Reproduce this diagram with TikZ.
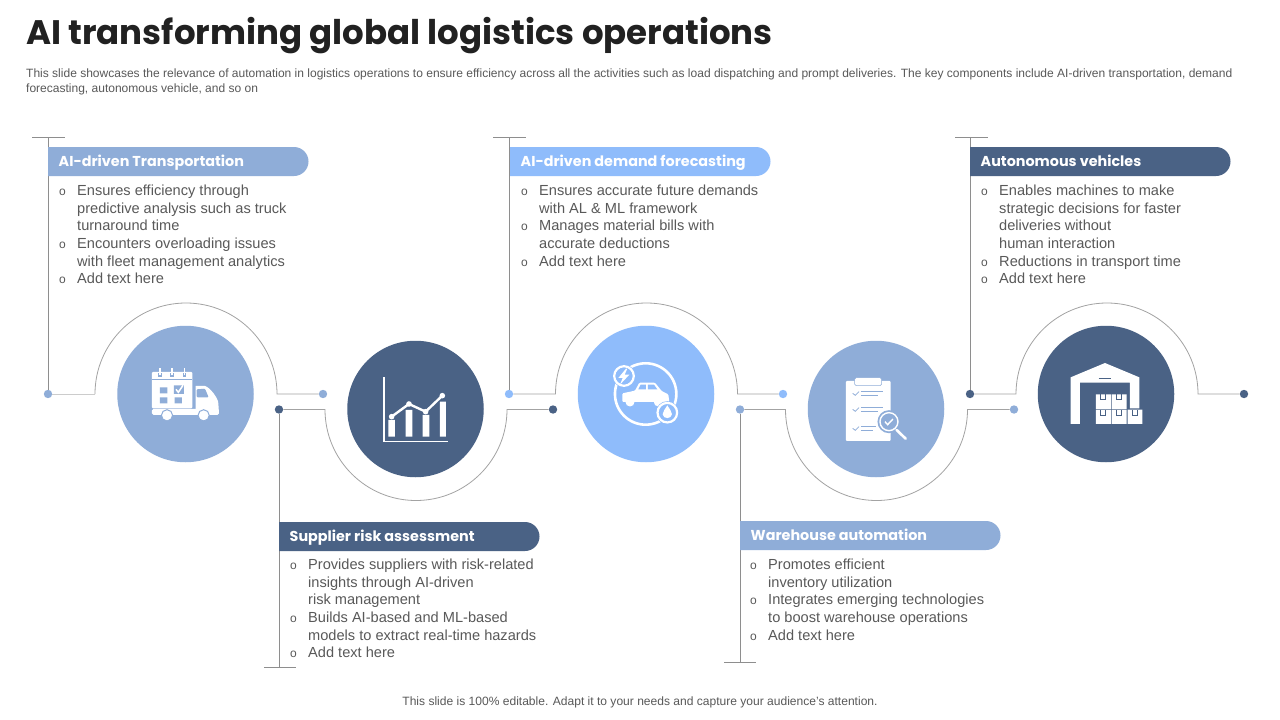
\documentclass[tikz,border=0pt]{standalone}
\usepackage{fontspec}
\setmainfont{Liberation Sans}
\newfontfamily\popfont{Poppins}
\definecolor{lightb}{HTML}{8FADD8}
\definecolor{darkb}{HTML}{4A6285}
\definecolor{brightb}{HTML}{8FBCFB}
\definecolor{bodyg}{HTML}{595959}
\definecolor{linkg}{HTML}{8E8E8E}
\definecolor{arcg}{HTML}{A3A3A3}
\newcommand{\bul}{\llap{\makebox[18pt][l]{\fontsize{12}{12}\selectfont o}}}
\newcommand{\hdrbar}[5]{%
  \fill[#4] (#2,#3) -- ++(246,0) arc[start angle=90,end angle=-90,radius=14.5pt] -- ++(-246,0) -- cycle;
  \node[hdrtext] (#1) at (#2+10.5,#3+19) {#5};}
\tikzset{
  x=1pt,y=-1pt,
  conn/.style={draw=arcg,line width=0.8pt},
  rule/.style={draw=linkg,line width=0.9pt},
  dotn/.style={circle,inner sep=0pt,minimum size=8.4pt,fill=#1},
  disc/.style={circle,inner sep=0pt,minimum size=136.5pt,fill=#1},
  hdrtext/.style={anchor=base west,inner sep=0pt,text=white,font=\popfont\bfseries\fontsize{14.35}{16}\selectfont},
  bodytext/.style={anchor=north west,inner sep=0pt,align=left,text=bodyg,font=\fontsize{14.6}{17.6}\selectfont},
}
\begin{document}
\begin{tikzpicture}
\useasboundingbox (0,0) rectangle (1280,720);
\fill[white] (0,0) rectangle (1280,720);
\node[anchor=west,inner sep=0pt,text=black!87,font=\popfont\bfseries\fontsize{34}{40}\selectfont] (title) at (26,35.5) {AI transforming global logistics operations};
\node[anchor=north west,inner sep=0pt,align=left,text=bodyg,font=\fontsize{12.02}{15}\selectfont] (sub) at (26,69) {This slide showcases the relevance of automation in logistics operations to ensure efficiency across all the activities such as load dispatching and prompt deliveries. The key components include AI-driven transportation, demand\\forecasting, autonomous vehicle, and so on};
\node[inner sep=0pt,text=bodyg,font=\fontsize{12.05}{14}\selectfont] (foot) at (640,702) {This slide is 100\% editable. Adapt it to your needs and capture your audience’s attention.};

% dots
\node[dotn=lightb] (d1) at (48,394) {};
\node[dotn=lightb] (d1r) at (323,394) {};
\node[dotn=darkb] (d2) at (279,409.5) {};
\node[dotn=darkb] (d2r) at (553,409.5) {};
\node[dotn=brightb] (d3) at (509,394) {};
\node[dotn=brightb] (d3r) at (783,394) {};
\node[dotn=lightb] (d4) at (740,409.5) {};
\node[dotn=lightb] (d4r) at (1014,409.5) {};
\node[dotn=darkb] (d5) at (970,394) {};
\node[dotn=darkb] (d5r) at (1244,394) {};

% tick end points
\coordinate (t1) at (48,137); \coordinate (t1a) at (32,137); \coordinate (t1b) at (65,137);
\coordinate (t2) at (279,667); \coordinate (t2a) at (264,667); \coordinate (t2b) at (296,667);
\coordinate (t3) at (509,137); \coordinate (t3a) at (493,137); \coordinate (t3b) at (526,137);
\coordinate (t4) at (740,662); \coordinate (t4a) at (724,662); \coordinate (t4b) at (756,662);
\coordinate (t5) at (970,137); \coordinate (t5a) at (955,137); \coordinate (t5b) at (988,137);
\draw[rule] (d1) -- (t1) (t1a) -- (t1b);
\draw[rule] (d2) -- (t2) (t2a) -- (t2b);
\draw[rule] (d3) -- (t3) (t3a) -- (t3b);
\draw[rule] (d4) -- (t4) (t4a) -- (t4b);
\draw[rule] (d5) -- (t5) (t5a) -- (t5b);

% arcs
\coordinate (a1) at (95,394); \coordinate (a2) at (325,409.5); \coordinate (a3) at (555.5,394); \coordinate (a4) at (785.5,409.5); \coordinate (a5) at (1016,394);
\draw[draw=arcg!55,line width=0.8pt] (d1) -- (a1);
\draw[conn] (a1) arc[start angle=180,end angle=0,radius=91pt] -- (d1r);
\draw[conn] (d2) -- (a2) arc[start angle=180,end angle=360,radius=91pt] -- (d2r);
\draw[conn] (d3) -- (a3) arc[start angle=180,end angle=0,radius=91pt] -- (d3r);
\draw[conn] (d4) -- (a4) arc[start angle=180,end angle=360,radius=91pt] -- (d4r);
\draw[conn] (d5) -- (a5) arc[start angle=180,end angle=0,radius=91pt] -- (d5r);

% discs
\node[disc=lightb] (c1) at (185.5,394) {};
\node[disc=darkb] (c2) at (415.5,409) {};
\node[disc=brightb] (c3) at (646,394) {};
\node[disc=lightb] (c4) at (876,409) {};
\node[disc=darkb] (c5) at (1106,394) {};

% headers
\hdrbar{h1}{48}{147}{lightb}{AI-driven Transportation}
\hdrbar{h2}{279}{522}{darkb}{Supplier risk assessment}
\hdrbar{h3}{510}{147}{brightb}{AI-driven demand forecasting}
\hdrbar{h4}{740}{521}{lightb}{Warehouse automation}
\hdrbar{h5}{970}{147}{darkb}{Autonomous vehicles}

% bullet texts
\node[bodytext] (b1) at (77,185) {\bul Ensures efficiency through\\predictive analysis such as truck\\turnaround time\\\bul Encounters overloading issues\\with fleet management analytics\\\bul Add text here};
\node[bodytext] (b2) at (308,559) {\bul Provides suppliers with risk-related\\insights through AI-driven\\risk management\\\bul Builds AI-based and ML-based\\models to extract real-time hazards\\\bul Add text here};
\node[bodytext] (b3) at (539,185) {\bul Ensures accurate future demands\\with AL \& ML framework\\\bul Manages material bills with\\accurate deductions\\\bul Add text here};
\node[bodytext] (b4) at (768,559) {\bul Promotes efficient\\inventory utilization\\\bul Integrates emerging technologies\\to boost warehouse operations\\\bul Add text here};
\node[bodytext] (b5) at (999,185) {\bul Enables machines to make\\strategic decisions for faster\\deliveries without\\human interaction\\\bul Reductions in transport time\\\bul Add text here};

% truck icon
\begin{scope}[shift={(90,300)},x=0.3333pt,y=-0.3333pt]
 \fill[white,rounded corners=1pt] (186,216) rectangle (307,325);
 \fill[white,rounded corners=1.5pt] (186,327) rectangle (387,345);
 \draw[lightb,line width=0.5pt] (186,238) -- (307,238);
 \foreach \rx in {210,246,283}{\fill[lightb] (\rx-5,218) rectangle (\rx+5,232); \fill[white] (\rx-2,205) rectangle (\rx+2,226);}
 \fill[lightb] (210,262) rectangle (232,280) (210,292) rectangle (232,310) (254,292) rectangle (276,310) (252,256) rectangle (282,282);
 \draw[white,line width=1.5pt] (258,268) -- (265,277) -- (279,256);
 \fill[white] (317,258) -- (345,258) .. controls (360,262) and (385,295) .. (385,310) -- (387,340) -- (317,340) -- cycle;
 \fill[lightb,rounded corners=1pt] (320,268) -- (345,266) -- (356,292) -- (320,292) -- cycle;
 \fill[white,draw=lightb,line width=1pt] (231,346) circle[radius=5.6pt];
 \fill[white,draw=lightb,line width=1pt] (341,346) circle[radius=5.6pt];
\end{scope}

% chart icon
\begin{scope}[shift={(90,300)},x=0.3333pt,y=-0.3333pt]
 \draw[white,line width=1.6pt] (882,232) -- (882,424) -- (1073,424);
 \fill[white] (895,360) rectangle (915,410) (947,330) rectangle (967,410) (998,345) rectangle (1018,410) (1050,305) rectangle (1068,410);
 \draw[darkb,line width=4.6pt,line join=round] (905,350) -- (957,312) -- (1007,335) -- (1057,287);
 \draw[white,line width=2.4pt,line join=round] (905,350) -- (957,312) -- (1007,335) -- (1057,287);
 \foreach \px/\py in {905/350,957/312,1007/335,1057/287}{\fill[white] (\px,\py) circle[radius=2.8pt];}
\end{scope}

% car icon
\begin{scope}[shift={(550,300)},x=0.3333pt,y=-0.3333pt]
 \draw[white,line width=2.6pt] (287,282) circle[radius=30.7pt];
 \fill[white,rounded corners=1pt] (217,280) -- (255,272) -- (268,248) -- (315,248) -- (335,273) -- (355,283) -- (358,306) -- (217,306) -- cycle;
 \fill[brightb] (272,254) -- (288,254) -- (288,268) -- (265,268) -- cycle (294,254) -- (312,254) -- (322,268) -- (294,268) -- cycle;
 \fill[white] (240,306) circle[radius=4.5pt] (325,306) circle[radius=4.5pt];
 \fill[brightb] (222,228) circle[radius=11.5pt] (352,338) circle[radius=11.5pt];
 \draw[white,line width=2.2pt] (222,228) circle[radius=9.8pt] (352,338) circle[radius=9.8pt];
 \fill[white] (228,206) -- (205,234) -- (218,234) -- (210,254) -- (238,224) -- (224,224) -- (232,206) -- cycle;
 \fill[white] (352,316) .. controls (345,328) and (338,335) .. (338,343) .. controls (340,358) and (364,358) .. (366,343) .. controls (366,335) and (359,328) .. (352,316) -- cycle;
\end{scope}

% clipboard icon
\begin{scope}[shift={(550,300)},x=0.3333pt,y=-0.3333pt]
 \fill[white,rounded corners=1pt] (888,243) rectangle (1022,423);
 \fill[white,draw=lightb,line width=0.5pt,rounded corners=1.5pt] (914,233) rectangle (995,257);
 \foreach \cy/\la/\lb in {280/1000/985,328/1000/985,385/978/968}{
  \draw[lightb,line width=0.8pt] (908,\cy) -- (916,\cy+6) -- (927,\cy-5);
  \draw[lightb,line width=0.8pt] (933,\cy-5) -- (\la,\cy-5) (933,\cy+6) -- (\lb,\cy+6);
 }
 \fill[lightb] (1017,365) circle[radius=11.5pt];
 \draw[white,line width=2.6pt,line cap=round] (1040,390) -- (1067,416);
 \fill[lightb,draw=white,line width=1.4pt] (1017,365) circle[radius=9pt];
 \draw[white,line width=1.4pt] (1005,365) -- (1013,374) -- (1029,357);
\end{scope}

% warehouse icon
\begin{scope}[shift={(950,300)},x=0.3333pt,y=-0.3333pt]
 \fill[white] (362,232) -- (465,189) -- (568,232) -- (568,325) -- (540,325) -- (540,248) -- (390,248) -- (390,372) -- (362,372) -- cycle;
 \draw[darkb,line width=0.7pt] (446,235) -- (484,235);
 \fill[white] (438,283) rectangle (483,327) (485,283) rectangle (530,327) (438,329) rectangle (483,372) (485,329) rectangle (530,372) (533,329) rectangle (577,372);
 \foreach \bx/\by in {452/283,500/283,452/329,500/329,547/329}{\draw[darkb,line width=0.5pt] (\bx,\by) -- (\bx,\by+16) -- (\bx+15,\by+16) -- (\bx+15,\by);}
\end{scope}
\end{tikzpicture}
\end{document}
